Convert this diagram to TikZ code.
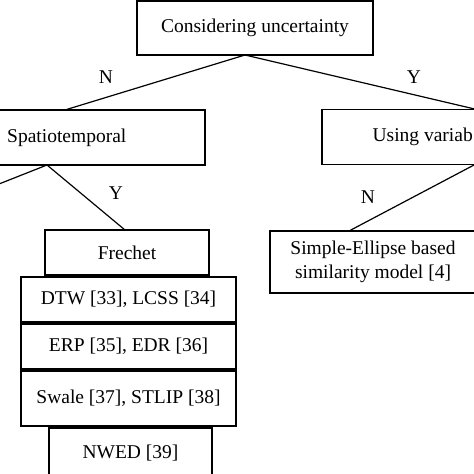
\documentclass[tikz,border=0pt]{standalone}
\usepackage{fontspec}
\setmainfont{Liberation Serif}
\begin{document}
\begin{tikzpicture}[x=1pt,y=-1pt,
  box/.style={draw=black,line width=1.3pt,fill=white,inner sep=0pt,font=\fontsize{19.5}{25}\selectfont},
  lbl/.style={font=\fontsize{19.5}{24}\selectfont,inner sep=0pt},
  conn/.style={line width=1.2pt}]
\useasboundingbox (0,0) rectangle (474,474);
\fill[white] (0,0) rectangle (474,474);
\clip (0,0) rectangle (474,474);
% boxes
\node[box,minimum width=236pt,minimum height=54pt] (top) at (255,28) {};
\node[lbl] (toptxt) at (255,28) {Considering uncertainty};
\node[box,minimum width=276pt,minimum height=55pt] (spat) at (67,137.5) {};
\node[lbl,anchor=west] (spattxt) at (7,137.5) {Spatiotemporal};
\node[box,minimum width=304pt,minimum height=55pt] (usev) at (474,137) {};
\node[lbl,anchor=east] (usevtxt) at (473,137) {Using variab};
\node[box,minimum width=164pt,minimum height=45pt] (frechet) at (127,252.5) {Frechet};
\node[box,minimum width=215pt,minimum height=45pt] (dtw) at (128.5,299.5) {DTW [33], LCSS [34]};
\node[box,minimum width=215pt,minimum height=45pt] (erp) at (128.5,346.5) {ERP [35], EDR [36]};
\node[box,minimum width=215pt,minimum height=55pt] (swale) at (128.5,398.5) {Swale [37], STLIP [38]};
\node[box,minimum width=163pt,minimum height=50pt] (nwed) at (130.5,453) {NWED [39]};
\node[box,minimum width=260pt,minimum height=62pt,align=center] (ellipse) at (400,262) {};
\node[lbl,align=center] (elltxt) at (373,262) {Simple-Ellipse based\\similarity model [4]};
% connectors
\coordinate (topout) at (245,55);
\coordinate (spatout) at (47,165);
\coordinate (fretop) at (125,230);
\coordinate (usevout) at (474,165);
\coordinate (elltop) at (349,231);
\coordinate (offl2) at (-20,191.5);
\draw[conn] (topout) -- (spat.north);
\draw[conn] (topout) -- (usev.north);
\draw[conn] (spatout) -- (offl2);
\draw[conn] (spatout) -- (fretop);
\draw[conn] (usevout) -- (elltop);
% labels
\node[lbl] (n1) at (106,77) {N};
\node[lbl] (y1) at (414,77) {Y};
\node[lbl] (y2) at (116,193) {Y};
\node[lbl] (n2) at (368,197) {N};
\end{tikzpicture}
\end{document}
